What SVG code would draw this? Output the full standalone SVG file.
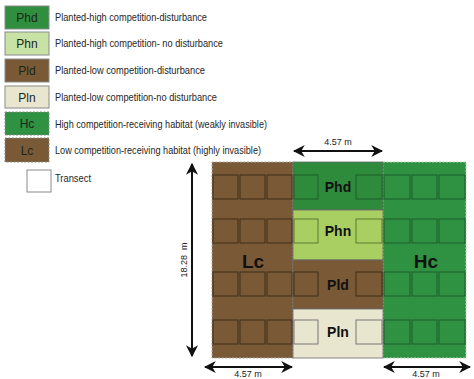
<svg xmlns="http://www.w3.org/2000/svg" width="474" height="379" viewBox="0 0 474 379">
<defs>
<marker id="ah" viewBox="0 0 10 10" refX="9" refY="5" markerWidth="6" markerHeight="6" orient="auto-start-reverse" markerUnits="strokeWidth">
<path d="M0,0 L10,5 L0,10 L3,5 z" fill="#111"/>
</marker>
<style>
.lt{font-family:"Liberation Sans",Arial,sans-serif;font-size:10.5px;fill:#262626}
.lb{font-family:"Liberation Sans",Arial,sans-serif;font-size:12px;text-anchor:middle;fill:#1a261a}
.ml{font-family:"Liberation Sans",Arial,sans-serif;font-weight:bold;font-size:14px;text-anchor:middle;fill:#111}
.bl{font-family:"Liberation Sans",Arial,sans-serif;font-weight:bold;font-size:19px;text-anchor:middle;fill:#111}
.dl{font-family:"Liberation Sans",Arial,sans-serif;font-size:9px;text-anchor:middle;fill:#222}
.lgb{stroke:#8a8a8a;stroke-width:1}
.dash{stroke-dasharray:2,1.5}
.tb{fill:#7a5a36;stroke:#3f2c16;stroke-width:1}
.tg{fill:#2f9142;stroke:#1d5e28;stroke-width:1}
.tl{fill:#a9cf62;stroke:#5a7a30;stroke-width:1}
.tc{fill:#e9e6d0;stroke:#777;stroke-width:1}
.dim{stroke:#111;stroke-width:2;fill:none;marker-start:url(#ah);marker-end:url(#ah)}
</style>
</defs>
<rect width="474" height="379" fill="#fff"/>

<!-- Legend -->
<g id="legend">
<g id="leg-phd"><rect x="5" y="6" width="44" height="23" fill="#2f8f3e" class="lgb"/><text x="27" y="22" class="lb">Phd</text><text x="55" y="21" class="lt" textLength="152" lengthAdjust="spacingAndGlyphs">Planted-high competition-disturbance</text></g>
<g id="leg-phn"><rect x="5" y="32" width="44" height="23" fill="#c8e2a6" class="lgb"/><text x="27" y="48" class="lb">Phn</text><text x="55" y="47" class="lt" textLength="168" lengthAdjust="spacingAndGlyphs">Planted-high competition- no disturbance</text></g>
<g id="leg-pld"><rect x="5" y="59" width="44" height="23" fill="#7a5a36" class="lgb"/><text x="27" y="75" class="lb">Pld</text><text x="55" y="74" class="lt" textLength="150" lengthAdjust="spacingAndGlyphs">Planted-low competition-disturbance</text></g>
<g id="leg-pln"><rect x="5" y="86" width="44" height="22" fill="#e9e6d0" class="lgb"/><text x="27" y="102" class="lb">Pln</text><text x="55" y="101" class="lt" textLength="162" lengthAdjust="spacingAndGlyphs">Planted-low competition-no disturbance</text></g>
<g id="leg-hc"><rect x="5" y="112" width="44" height="23" fill="#2f9142" class="lgb dash"/><text x="27" y="128" class="lb">Hc</text><text x="55" y="128" class="lt" textLength="212" lengthAdjust="spacingAndGlyphs">High competition-receiving habitat (weakly invasible)</text></g>
<g id="leg-lc"><rect x="5" y="138" width="44" height="24" fill="#7a5a36" class="lgb dash"/><text x="27" y="155" class="lb">Lc</text><text x="55" y="154" class="lt" textLength="206" lengthAdjust="spacingAndGlyphs">Low competition-receiving habitat (highly invasible)</text></g>
<g id="leg-tr"><rect x="27" y="170" width="24" height="22" fill="#fff" class="lgb"/><text x="55" y="182" class="lt" textLength="36" lengthAdjust="spacingAndGlyphs">Transect</text></g>
</g>

<!-- Lc column -->
<g id="Lc">
<rect x="212" y="162" width="81" height="196" fill="#7a5a36" stroke="#aaa" stroke-width="1" stroke-dasharray="2,1.5"/>
<rect x="213" y="175" width="25" height="24" class="tb"/><rect x="240" y="175" width="25" height="24" class="tb"/><rect x="267" y="175" width="25" height="24" class="tb"/>
<rect x="213" y="219" width="25" height="24" class="tb"/><rect x="240" y="219" width="25" height="24" class="tb"/><rect x="267" y="219" width="25" height="24" class="tb"/>
<rect x="213" y="272" width="25" height="24" class="tb"/><rect x="240" y="272" width="25" height="24" class="tb"/><rect x="267" y="272" width="25" height="24" class="tb"/>
<rect x="213" y="320" width="25" height="24" class="tb"/><rect x="240" y="320" width="25" height="24" class="tb"/><rect x="267" y="320" width="25" height="24" class="tb"/>
<text x="253" y="268" class="bl">Lc</text>
</g>

<!-- Hc column -->
<g id="Hc">
<rect x="383" y="162" width="83" height="196" fill="#2f9142" stroke="#b9d9b9" stroke-width="1" stroke-dasharray="2,1.5"/>
<rect x="384" y="175" width="26" height="24" class="tg"/><rect x="412" y="175" width="25" height="24" class="tg"/><rect x="439" y="175" width="26" height="24" class="tg"/>
<rect x="384" y="219" width="26" height="24" class="tg"/><rect x="412" y="219" width="25" height="24" class="tg"/><rect x="439" y="219" width="26" height="24" class="tg"/>
<rect x="384" y="272" width="26" height="24" class="tg"/><rect x="412" y="272" width="25" height="24" class="tg"/><rect x="439" y="272" width="26" height="24" class="tg"/>
<rect x="384" y="320" width="26" height="24" class="tg"/><rect x="412" y="320" width="25" height="24" class="tg"/><rect x="439" y="320" width="26" height="24" class="tg"/>
<text x="426" y="268" class="bl">Hc</text>
</g>

<!-- Center plots -->
<g id="Phd">
<rect x="293" y="162" width="90" height="48" fill="#2f8b3c" stroke="#666" stroke-width="0.8"/>
<rect x="294" y="175" width="24" height="24" class="tg" style="fill:#2f8b3c"/><rect x="356" y="175" width="26" height="24" class="tg" style="fill:#2f8b3c"/>
<text x="338" y="192" class="ml">Phd</text>
</g>
<g id="Phn">
<rect x="293" y="210" width="90" height="50" fill="#a9cf62" stroke="#666" stroke-width="0.8"/>
<rect x="294" y="219" width="24" height="24" class="tl"/><rect x="356" y="219" width="26" height="24" class="tl"/>
<text x="338" y="236" class="ml">Phn</text>
</g>
<g id="Pld">
<rect x="293" y="260" width="90" height="49" fill="#7a5a36" stroke="#666" stroke-width="0.8"/>
<rect x="294" y="272" width="24" height="24" class="tb"/><rect x="356" y="272" width="26" height="24" class="tb"/>
<text x="338" y="290" class="ml">Pld</text>
</g>
<g id="Pln">
<rect x="293" y="309" width="90" height="49" fill="#e9e6d0" stroke="#666" stroke-width="0.8"/>
<rect x="294" y="320" width="24" height="24" class="tc"/><rect x="356" y="320" width="26" height="24" class="tc"/>
<text x="338" y="337" class="ml">Pln</text>
</g>

<!-- Dimensions -->
<g id="connectors">
<line x1="294" y1="151" x2="382" y2="151" class="dim"/>
<line x1="192" y1="164" x2="192" y2="356" class="dim"/>
<line x1="205" y1="367" x2="292" y2="367" class="dim"/>
<line x1="384" y1="367" x2="470" y2="367" class="dim"/>
</g>
<g id="dim-labels">
<text x="338" y="145" class="dl">4.57 m</text>
<text x="248" y="377" class="dl">4.57 m</text>
<text x="426" y="377" class="dl">4.57 m</text>
<text transform="translate(187,260) rotate(-90)" class="dl" xml:space="preserve">18.28  m</text>
</g>
</svg>
